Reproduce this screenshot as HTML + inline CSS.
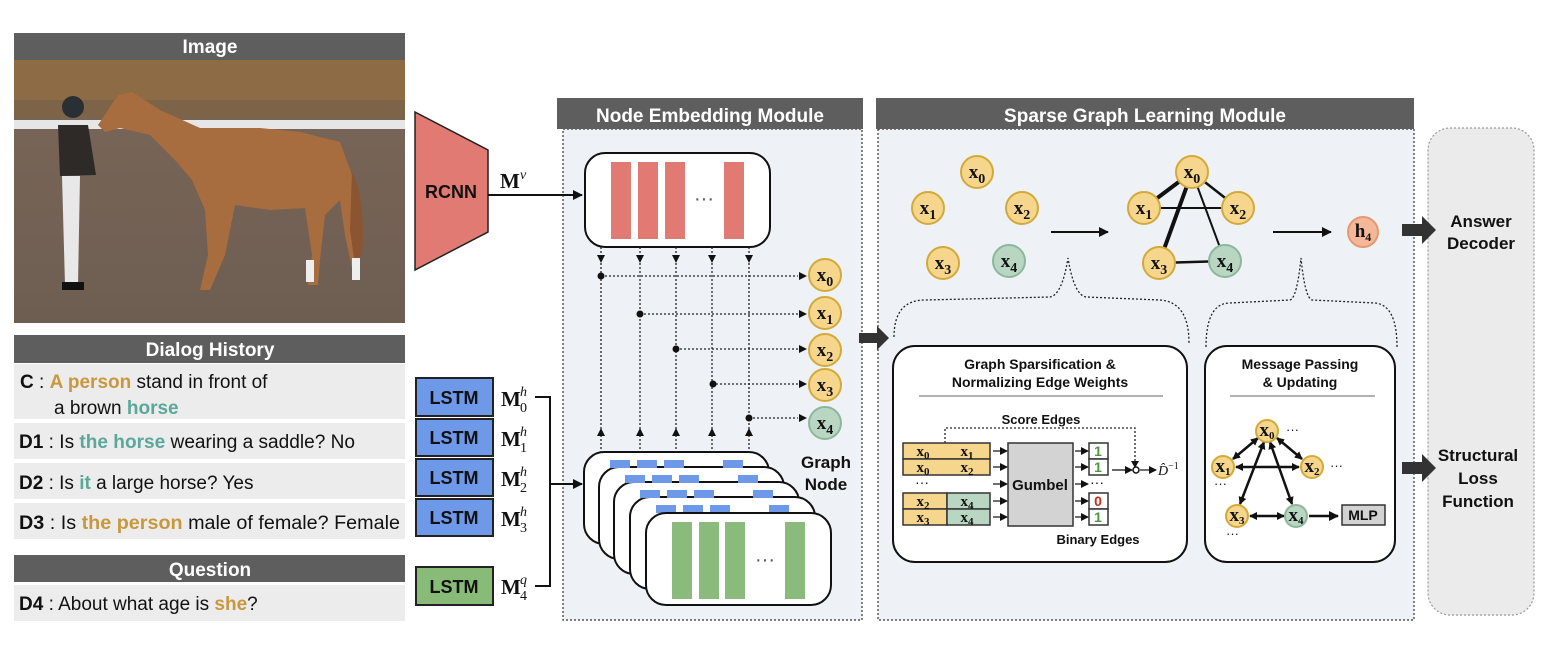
<!DOCTYPE html>
<html><head><meta charset="utf-8"><style>
html,body{margin:0;padding:0;background:#fff;}
svg{display:block;font-family:"Liberation Sans",Arial,sans-serif;}
.h{font-weight:bold;fill:#fff;font-size:19px;text-anchor:middle;}
.t{font-size:19px;fill:#111;}
.b{font-weight:bold;}
.or{fill:#c9983e;font-weight:bold;}
.gr{fill:#5aa89a;font-weight:bold;}
.nd{fill:#f5d68c;stroke:#d3aa3a;stroke-width:2;}
.ng{fill:#b9d6c2;stroke:#8db79a;stroke-width:2;}
.nx{font-family:"Liberation Serif",serif;font-weight:bold;font-size:19px;fill:#111;text-anchor:middle;}
.dot{stroke:#222;stroke-width:1.3;stroke-dasharray:2 2;fill:none;}
.mm{font-family:"Liberation Serif",serif;font-weight:bold;font-size:21px;fill:#111;}
.ms{font-family:"Liberation Serif",serif;font-style:italic;font-size:14px;fill:#111;}
.mb{font-family:"Liberation Serif",serif;font-size:14px;fill:#111;}
</style></head><body>
<svg width="1547" height="655" viewBox="0 0 1547 655" xmlns="http://www.w3.org/2000/svg">
<defs>
<marker id="a" markerWidth="10" markerHeight="10" refX="9" refY="5" orient="auto" markerUnits="userSpaceOnUse"><path d="M0,0 L10,5 L0,10 z" fill="#111"/></marker>
<marker id="as" markerWidth="8" markerHeight="8" refX="7" refY="4" orient="auto" markerUnits="userSpaceOnUse"><path d="M0,0 L8,4 L0,8 z" fill="#111"/></marker>
<marker id="ab" markerWidth="8" markerHeight="8" refX="1" refY="4" orient="auto" markerUnits="userSpaceOnUse"><path d="M8,0 L0,4 L8,8 z" fill="#111"/></marker>
<linearGradient id="floor" x1="0" y1="0" x2="0" y2="1"><stop offset="0" stop-color="#7a6658"/><stop offset="1" stop-color="#6e5e52"/></linearGradient>
</defs>

<!-- Image -->
<rect x="14" y="33" width="391" height="27" fill="#5e5e5e"/>
<text class="h" x="210" y="53">Image</text>
<rect x="14" y="60" width="391" height="263" fill="url(#floor)"/>
<rect x="14" y="60" width="391" height="57" fill="#8c6b45"/>
<rect x="14" y="100" width="391" height="18" fill="#7d6448"/>
<rect x="14" y="120" width="391" height="9" fill="#e6e6e6"/>
<path d="M98,125 L118,95 L132,92 L160,110 L200,128 L260,128 L300,132 L340,142 L352,175 L360,250 L352,268 L345,235 L340,200 L325,215 L320,260 L318,285 L308,285 L312,255 L305,208 L270,210 L235,205 L225,255 L210,290 L200,290 L208,255 L205,210 L192,180 L175,160 L150,135 L120,128 L105,132 Z" fill="#a86d3e"/>
<path d="M352,172 Q366,200 362,255 L355,265 L350,230 Z" fill="#8a5530"/>
<rect x="306" y="260" width="8" height="22" fill="#eee"/>
<rect x="352" y="258" width="8" height="22" fill="#eee"/>
<circle cx="73" cy="107" r="11" fill="#2a2f36"/>
<path d="M58,125 L88,125 L96,175 L60,176 Z" fill="#2e2a28"/>
<path d="M62,176 L80,176 L78,285 L65,285 Z" fill="#e8e8e8"/>
<rect x="62" y="282" width="22" height="8" fill="#111"/>

<!-- Dialog history -->
<rect x="14" y="335" width="391" height="28" fill="#5e5e5e"/>
<text class="h" x="210" y="356">Dialog History</text>
<rect x="14" y="364" width="391" height="55" fill="#ececec"/>
<rect x="14" y="423" width="391" height="36" fill="#ececec"/>
<rect x="14" y="463" width="391" height="36" fill="#ececec"/>
<rect x="14" y="503" width="391" height="36" fill="#ececec"/>
<text class="t" x="20" y="388"><tspan class="b">C</tspan> : <tspan class="or">A person</tspan> stand in front of</text>
<text class="t" x="54" y="414">a brown <tspan class="gr">horse</tspan></text>
<text class="t" x="19" y="448" textLength="336" lengthAdjust="spacingAndGlyphs"><tspan class="b">D1</tspan> : Is <tspan class="gr">the horse</tspan> wearing a saddle? No</text>
<text class="t" x="19" y="489"><tspan class="b">D2</tspan> : Is <tspan class="gr">it</tspan> a large horse? Yes</text>
<text class="t" x="19" y="529" textLength="381" lengthAdjust="spacingAndGlyphs"><tspan class="b">D3</tspan> : Is <tspan class="or">the person</tspan> male of female? Female</text>
<rect x="14" y="555" width="391" height="27" fill="#5e5e5e"/>
<text class="h" x="210" y="576">Question</text>
<rect x="14" y="585" width="391" height="36" fill="#ececec"/>
<text class="t" x="19" y="610"><tspan class="b">D4</tspan> : About what age is <tspan class="or">she</tspan>?</text>

<!-- RCNN -->
<path d="M415,112 L488,150 L488,232 L415,270 Z" fill="#e07a72" stroke="#222" stroke-width="1.5"/>
<text x="451" y="198" font-weight="bold" font-size="18" text-anchor="middle" fill="#111">RCNN</text>
<text class="mm" x="500" y="188">M</text><text class="ms" x="520" y="179">v</text>

<!-- LSTMs -->
<g font-weight="bold" font-size="18" text-anchor="middle" fill="#111">
<rect x="416" y="378" width="77" height="38" fill="#6e98e8" stroke="#222" stroke-width="2"/><text x="454" y="404">LSTM</text>
<rect x="416" y="419" width="77" height="37" fill="#6e98e8" stroke="#222" stroke-width="2"/><text x="454" y="444">LSTM</text>
<rect x="416" y="459" width="77" height="37" fill="#6e98e8" stroke="#222" stroke-width="2"/><text x="454" y="484">LSTM</text>
<rect x="416" y="499" width="77" height="37" fill="#6e98e8" stroke="#222" stroke-width="2"/><text x="454" y="524">LSTM</text>
<rect x="416" y="567" width="77" height="38" fill="#88bb78" stroke="#222" stroke-width="2"/><text x="454" y="593">LSTM</text>
</g>
<text class="mm" x="501" y="406">M</text><text class="ms" x="520" y="396">h</text><text class="mb" x="520" y="412">0</text>
<text class="mm" x="501" y="446">M</text><text class="ms" x="520" y="436">h</text><text class="mb" x="520" y="452">1</text>
<text class="mm" x="501" y="486">M</text><text class="ms" x="520" y="476">h</text><text class="mb" x="520" y="492">2</text>
<text class="mm" x="501" y="526">M</text><text class="ms" x="520" y="516">h</text><text class="mb" x="520" y="532">3</text>
<text class="mm" x="501" y="594">M</text><text class="ms" x="520" y="584">q</text><text class="mb" x="520" y="600">4</text>
<path d="M535,397 L550,397 L550,586 L535,586" fill="none" stroke="#111" stroke-width="2"/>

<!-- Node Embedding Module -->
<rect x="563" y="129" width="299" height="491" fill="#eef2f6"/>
<rect x="563" y="129" width="299" height="491" fill="none" stroke="#333" stroke-width="1.2" stroke-dasharray="2 2"/>
<rect x="557" y="98" width="306" height="31" fill="#5e5e5e"/>
<text class="h" x="710" y="122">Node Embedding Module</text>
<line x1="488" y1="195" x2="582" y2="195" stroke="#111" stroke-width="2" marker-end="url(#a)"/>
<line x1="550" y1="484" x2="582" y2="484" stroke="#111" stroke-width="2" marker-end="url(#a)"/>

<rect x="585" y="153" width="185" height="94" rx="20" fill="#fff" stroke="#111" stroke-width="2"/>
<g fill="#e07a72"><rect x="611" y="162" width="20" height="77"/><rect x="638" y="162" width="20" height="77"/><rect x="665" y="162" width="20" height="77"/><rect x="724" y="162" width="20" height="77"/></g>
<text x="704" y="205" font-size="20" fill="#555" text-anchor="middle">···</text>

<g stroke="#111" stroke-width="2" fill="#fff">
<rect x="584" y="452" width="185" height="92" rx="20"/>
<rect x="599" y="467" width="185" height="92" rx="20"/>
<rect x="614" y="482" width="185" height="92" rx="20"/>
<rect x="630" y="497" width="185" height="92" rx="20"/>
</g>
<g fill="#6e98e8">
<rect x="610" y="460" width="20" height="8"/><rect x="637" y="460" width="20" height="8"/><rect x="664" y="460" width="20" height="8"/><rect x="723" y="460" width="20" height="8"/>
<rect x="625" y="475" width="20" height="8"/><rect x="652" y="475" width="20" height="8"/><rect x="679" y="475" width="20" height="8"/><rect x="738" y="475" width="20" height="8"/>
<rect x="640" y="490" width="20" height="8"/><rect x="667" y="490" width="20" height="8"/><rect x="694" y="490" width="20" height="8"/><rect x="753" y="490" width="20" height="8"/>
<rect x="656" y="505" width="20" height="8"/><rect x="683" y="505" width="20" height="8"/><rect x="710" y="505" width="20" height="8"/><rect x="769" y="505" width="20" height="8"/>
</g>
<rect x="646" y="513" width="185" height="92" rx="20" fill="#fff" stroke="#111" stroke-width="2"/>
<g fill="#8bbb7c"><rect x="672" y="522" width="20" height="77"/><rect x="699" y="522" width="20" height="77"/><rect x="725" y="522" width="20" height="77"/><rect x="785" y="522" width="20" height="77"/></g>
<text x="765" y="566" font-size="20" fill="#555" text-anchor="middle">···</text>

<g class="dot">
<line x1="601" y1="247" x2="601" y2="452"/><line x1="640" y1="247" x2="640" y2="452"/><line x1="676" y1="247" x2="676" y2="452"/><line x1="712" y1="247" x2="712" y2="452"/><line x1="749" y1="247" x2="749" y2="452"/>
<line x1="601" y1="276" x2="798" y2="276"/><line x1="640" y1="314" x2="798" y2="314"/><line x1="676" y1="349" x2="798" y2="349"/><line x1="712" y1="384" x2="798" y2="384"/><line x1="749" y1="418" x2="798" y2="418"/>
</g>
<g fill="#111">
<path d="M597,255 h8 l-4,8z"/><path d="M636,255 h8 l-4,8z"/><path d="M672,255 h8 l-4,8z"/><path d="M708,255 h8 l-4,8z"/><path d="M745,255 h8 l-4,8z"/>
<path d="M597,436 h8 l-4,-8z"/><path d="M636,436 h8 l-4,-8z"/><path d="M672,436 h8 l-4,-8z"/><path d="M708,436 h8 l-4,-8z"/><path d="M745,436 h8 l-4,-8z"/>
<path d="M799,272 l8,4 l-8,4z"/><path d="M799,310 l8,4 l-8,4z"/><path d="M799,345 l8,4 l-8,4z"/><path d="M799,380 l8,4 l-8,4z"/><path d="M799,414 l8,4 l-8,4z"/>
<circle cx="601" cy="276" r="3.5"/><circle cx="640" cy="314" r="3.5"/><circle cx="676" cy="349" r="3.5"/><circle cx="713" cy="384" r="3.5"/><circle cx="749" cy="418" r="3.5"/>
</g>
<circle class="nd" cx="825" cy="275" r="16"/><text class="nx" x="825" y="281">x<tspan font-size="14" dy="5">0</tspan></text>
<circle class="nd" cx="825" cy="313" r="16"/><text class="nx" x="825" y="319">x<tspan font-size="14" dy="5">1</tspan></text>
<circle class="nd" cx="825" cy="350" r="16"/><text class="nx" x="825" y="356">x<tspan font-size="14" dy="5">2</tspan></text>
<circle class="nd" cx="825" cy="385" r="16"/><text class="nx" x="825" y="391">x<tspan font-size="14" dy="5">3</tspan></text>
<circle class="ng" cx="825" cy="423" r="16"/><text class="nx" x="825" y="429">x<tspan font-size="14" dy="5">4</tspan></text>
<text x="826" y="468" font-weight="bold" font-size="17" text-anchor="middle" fill="#111">Graph</text>
<text x="826" y="490" font-weight="bold" font-size="17" text-anchor="middle" fill="#111">Node</text>

<!-- Sparse Graph Learning Module -->
<rect x="878" y="129" width="536" height="491" fill="#eef2f6"/>
<rect x="878" y="129" width="536" height="491" fill="none" stroke="#333" stroke-width="1.2" stroke-dasharray="2 2"/>
<rect x="876" y="98" width="538" height="31" fill="#5e5e5e"/>
<text class="h" x="1145" y="122">Sparse Graph Learning Module</text>
<path d="M859,333 h18 v-7 l12,12 l-12,12 v-7 h-18z" fill="#333"/>

<circle class="nd" cx="977" cy="172" r="16"/><text class="nx" x="977" y="178">x<tspan font-size="14" dy="5">0</tspan></text>
<circle class="nd" cx="928" cy="208" r="16"/><text class="nx" x="928" y="214">x<tspan font-size="14" dy="5">1</tspan></text>
<circle class="nd" cx="1022" cy="208" r="16"/><text class="nx" x="1022" y="214">x<tspan font-size="14" dy="5">2</tspan></text>
<circle class="nd" cx="943" cy="263" r="16"/><text class="nx" x="943" y="269">x<tspan font-size="14" dy="5">3</tspan></text>
<circle class="ng" cx="1009" cy="261" r="16"/><text class="nx" x="1009" y="267">x<tspan font-size="14" dy="5">4</tspan></text>
<line x1="1051" y1="232" x2="1108" y2="232" stroke="#111" stroke-width="2" marker-end="url(#a)"/>

<g stroke="#111">
<line x1="1192" y1="172" x2="1144" y2="208" stroke-width="4"/>
<line x1="1192" y1="172" x2="1238" y2="208" stroke-width="2.5"/>
<line x1="1192" y1="172" x2="1159" y2="263" stroke-width="4"/>
<line x1="1192" y1="172" x2="1225" y2="261" stroke-width="2"/>
<line x1="1144" y1="208" x2="1238" y2="208" stroke-width="2"/>
<line x1="1159" y1="263" x2="1225" y2="261" stroke-width="2.5"/>
</g>
<circle class="nd" cx="1192" cy="172" r="16"/><text class="nx" x="1192" y="178">x<tspan font-size="14" dy="5">0</tspan></text>
<circle class="nd" cx="1144" cy="208" r="16"/><text class="nx" x="1144" y="214">x<tspan font-size="14" dy="5">1</tspan></text>
<circle class="nd" cx="1238" cy="208" r="16"/><text class="nx" x="1238" y="214">x<tspan font-size="14" dy="5">2</tspan></text>
<circle class="nd" cx="1159" cy="263" r="16"/><text class="nx" x="1159" y="269">x<tspan font-size="14" dy="5">3</tspan></text>
<circle class="ng" cx="1225" cy="261" r="16"/><text class="nx" x="1225" y="267">x<tspan font-size="14" dy="5">4</tspan></text>
<line x1="1273" y1="232" x2="1331" y2="232" stroke="#111" stroke-width="2" marker-end="url(#a)"/>
<circle cx="1363" cy="232" r="15" fill="#f4b898" stroke="#e39a72" stroke-width="2"/>
<text class="nx" x="1363" y="237" font-size="17">h<tspan font-size="12" dy="4">4</tspan></text>

<path class="dot" d="M894,337 Q894,300 925,300 L1050,297 Q1062,295 1068,258 Q1074,295 1086,297 L1160,300 Q1189,302 1189,343"/>
<path class="dot" d="M1206,347 Q1206,303 1230,303 L1290,300 Q1297,298 1301,258 Q1305,298 1312,300 L1375,303 Q1397,305 1397,347"/>

<!-- Sparsification box -->
<rect x="893" y="346" width="294" height="216" rx="22" fill="#fff" stroke="#111" stroke-width="2"/>
<text x="1040" y="369" font-weight="bold" font-size="14" text-anchor="middle" fill="#111">Graph Sparsification &amp;</text>
<text x="1040" y="387" font-weight="bold" font-size="14" text-anchor="middle" fill="#111">Normalizing Edge Weights</text>
<line x1="919" y1="396" x2="1163" y2="396" stroke="#666" stroke-width="1"/>
<text x="1041" y="424" font-weight="bold" font-size="13" text-anchor="middle" fill="#111">Score Edges</text>
<path class="dot" d="M945,443 V428 H1135 V462"/>
<path d="M1131,461 h8 l-4,7z" fill="#111"/>
<g stroke="#333" stroke-width="1.5">
<rect x="903" y="443" width="87" height="16" fill="#f5d68c"/>
<rect x="903" y="459" width="87" height="16" fill="#f5d68c"/>
<rect x="903" y="493" width="44" height="16" fill="#f5d68c"/><rect x="947" y="493" width="43" height="16" fill="#b9d6c2"/>
<rect x="903" y="509" width="44" height="16" fill="#f5d68c"/><rect x="947" y="509" width="43" height="16" fill="#b9d6c2"/>
</g>
<g font-family="Liberation Serif,serif" font-weight="bold" font-size="15" fill="#111" text-anchor="middle">
<text x="923" y="456">x<tspan font-size="11" dy="3">0</tspan></text><text x="967" y="456">x<tspan font-size="11" dy="3">1</tspan></text>
<text x="923" y="472">x<tspan font-size="11" dy="3">0</tspan></text><text x="967" y="472">x<tspan font-size="11" dy="3">2</tspan></text>
<text x="923" y="506">x<tspan font-size="11" dy="3">2</tspan></text><text x="967" y="506">x<tspan font-size="11" dy="3">4</tspan></text>
<text x="923" y="522">x<tspan font-size="11" dy="3">3</tspan></text><text x="967" y="522">x<tspan font-size="11" dy="3">4</tspan></text>
</g>
<text x="915" y="487" font-size="14" fill="#111">···</text>
<g stroke="#111" stroke-width="1.2" marker-end="url(#as)">
<line x1="993" y1="451" x2="1007" y2="451"/><line x1="993" y1="467" x2="1007" y2="467"/><line x1="993" y1="484" x2="1007" y2="484"/><line x1="993" y1="501" x2="1007" y2="501"/><line x1="993" y1="517" x2="1007" y2="517"/>
<line x1="1075" y1="451" x2="1088" y2="451"/><line x1="1075" y1="467" x2="1088" y2="467"/><line x1="1075" y1="484" x2="1088" y2="484"/><line x1="1075" y1="501" x2="1088" y2="501"/><line x1="1075" y1="517" x2="1088" y2="517"/>
<line x1="1112" y1="470" x2="1132" y2="470"/><line x1="1140" y1="470" x2="1156" y2="470"/>
</g>
<rect x="1008" y="443" width="65" height="83" fill="#d3d3d3" stroke="#333" stroke-width="1.5"/>
<text x="1040" y="490" font-weight="bold" font-size="15" text-anchor="middle" fill="#111">Gumbel</text>
<g stroke="#333" stroke-width="1.5" fill="#fff">
<rect x="1089" y="443" width="19" height="16"/><rect x="1089" y="459" width="19" height="16"/>
<rect x="1089" y="493" width="19" height="16"/><rect x="1089" y="509" width="19" height="16"/>
</g>
<g font-weight="bold" font-size="14" text-anchor="middle">
<text x="1098" y="456" fill="#4a9a3a">1</text><text x="1098" y="472" fill="#4a9a3a">1</text>
<text x="1098" y="506" fill="#cc2a1a">0</text><text x="1098" y="522" fill="#4a9a3a">1</text>
</g>
<text x="1090" y="487" font-size="14" fill="#111">···</text>
<circle cx="1136" cy="470" r="3" fill="#fff" stroke="#111" stroke-width="1.5"/>
<text x="1158" y="475" font-family="Liberation Serif,serif" font-style="italic" font-size="14" fill="#111">D̂<tspan font-style="normal" font-size="10" dy="-6">−1</tspan></text>
<text x="1098" y="544" font-weight="bold" font-size="13" text-anchor="middle" fill="#111">Binary Edges</text>

<!-- Message passing box -->
<rect x="1205" y="346" width="190" height="216" rx="22" fill="#fff" stroke="#111" stroke-width="2"/>
<text x="1300" y="369" font-weight="bold" font-size="14" text-anchor="middle" fill="#111">Message Passing</text>
<text x="1300" y="387" font-weight="bold" font-size="14" text-anchor="middle" fill="#111">&amp; Updating</text>
<line x1="1230" y1="396" x2="1375" y2="396" stroke="#666" stroke-width="1"/>
<g stroke="#111" stroke-width="2.5" marker-end="url(#as)" marker-start="url(#ab)">
<line x1="1258" y1="438" x2="1233" y2="459"/>
<line x1="1277" y1="438" x2="1302" y2="459"/>
<line x1="1236" y1="467" x2="1299" y2="467"/>
<line x1="1264" y1="442" x2="1240" y2="504"/>
<line x1="1270" y1="442" x2="1292" y2="504"/>
<line x1="1250" y1="516" x2="1284" y2="516"/>
</g>
<line x1="1309" y1="516" x2="1338" y2="516" stroke="#111" stroke-width="2.5" marker-end="url(#a)"/>
<circle class="nd" cx="1267" cy="431" r="11"/><text class="nx" x="1267" y="436" font-size="15">x<tspan font-size="11" dy="3">0</tspan></text>
<circle class="nd" cx="1223" cy="467" r="11"/><text class="nx" x="1223" y="472" font-size="15">x<tspan font-size="11" dy="3">1</tspan></text>
<circle class="nd" cx="1312" cy="467" r="11"/><text class="nx" x="1312" y="472" font-size="15">x<tspan font-size="11" dy="3">2</tspan></text>
<circle class="nd" cx="1237" cy="516" r="11"/><text class="nx" x="1237" y="521" font-size="15">x<tspan font-size="11" dy="3">3</tspan></text>
<circle class="ng" cx="1296" cy="516" r="11"/><text class="nx" x="1296" y="521" font-size="15">x<tspan font-size="11" dy="3">4</tspan></text>
<g font-size="13" fill="#111"><text x="1286" y="434">···</text><text x="1330" y="470">···</text><text x="1214" y="488">···</text><text x="1226" y="538">···</text></g>
<rect x="1342" y="505" width="43" height="20" fill="#d3d3d3" stroke="#333" stroke-width="1.5"/>
<text x="1363" y="520" font-weight="bold" font-size="14" text-anchor="middle" fill="#111">MLP</text>

<!-- right panel -->
<rect x="1428" y="128" width="106" height="487" rx="22" fill="#ebebeb" stroke="#999" stroke-width="1.2" stroke-dasharray="2 2"/>
<path d="M1402,224 h20 v-8 l14,14 l-14,14 v-8 h-20z" fill="#333"/>
<path d="M1402,462 h20 v-8 l14,14 l-14,14 v-8 h-20z" fill="#333"/>
<g font-weight="bold" font-size="17" text-anchor="middle" fill="#111">
<text x="1481" y="227">Answer</text><text x="1481" y="249">Decoder</text>
<text x="1478" y="461">Structural</text><text x="1478" y="484">Loss</text><text x="1478" y="507">Function</text>
</g>
</svg>
</body></html>
